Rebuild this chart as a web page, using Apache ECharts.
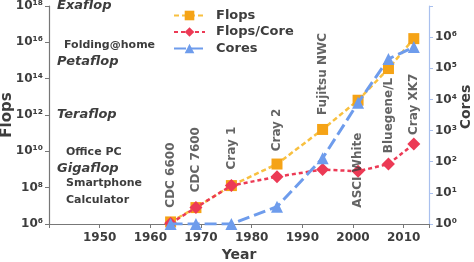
<!DOCTYPE html>
<html>
<head>
<meta charset="utf-8">
<script src="https://cdn.jsdelivr.net/npm/echarts@6/dist/echarts.min.js"></script>
<style>html,body{margin:0;padding:0;background:#fff}#c{width:474px;height:262px}</style>
</head>
<body>
<div id="c"></div>
<script>
// ---- data ----
var machines = ['CDC 6600', 'CDC 7600', 'Cray 1', 'Cray 2', 'Fujitsu NWC', 'ASCI White', 'Bluegene/L', 'Cray XK7'];
var years = [1964, 1969, 1976, 1985, 1994, 2001, 2007, 2012];
var flops = [1.3e6, 8e6, 1.3e8, 2e9, 1.6e11, 6.5e12, 3.6e14, 1.6e16];
var flopsPerCore = [1.1e6, 8e6, 1.3e8, 4e8, 1.0e9, 8e8, 2e9, 2.5e10];
var cores = [1, 1, 1, 3.6, 130, 7800, 200000, 480000];
var xTicks = [1950, 1960, 1970, 1980, 1990, 2000, 2010];
var leftNotes = ['Exaflop', 'Folding@home', 'Petaflop', 'Teraflop', 'Office PC', 'Gigaflop', 'Smartphone', 'Calculator'];

// ---- layout (label anchor levels on the Flops axis, exponent) ----
var labelLevel = [6.9, 7.75, 9.0, 10.0, 12.0, 6.9, 9.9, 10.9];
var notePos = [[57, 6, true], [64, 45, false], [57, 62, true], [57, 115, true], [66, 152, false], [57, 169, true], [66, 183, false], [66, 200, false]];

var FONT = '"DejaVu Sans", sans-serif';
var TXT = '#3d3d3d';
var sup = {'0':'\u2070','1':'\u00b9','2':'\u00b2','3':'\u00b3','4':'\u2074','5':'\u2075','6':'\u2076','7':'\u2077','8':'\u2078','9':'\u2079'};
function pow10(v) {
  var e = Math.round(Math.log10(v));
  return '10' + String(e).split('').map(function (c) { return sup[c]; }).join('');
}

var chart = echarts.init(document.getElementById('c'), null, {renderer: 'canvas'});

var labelData = years.map(function (y, i) { return {value: [y, Math.pow(10, labelLevel[i])], name: machines[i]}; });

var graphics = leftNotes.map(function (t, i) {
  var p = notePos[i];
  return {
    type: 'text', x: p[0], y: p[1], silent: true, z: 10,
    style: {
      text: t, x: 0, y: 0, align: 'left', verticalAlign: 'middle',
      fill: TXT, font: (p[2] ? 'italic bold 13px ' : 'bold 11px ') + FONT
    }
  };
});

chart.setOption({
  animation: false,
  textStyle: {fontFamily: FONT},
  grid: {left: 49, right: 45, top: 6, bottom: 38, containLabel: false, outerBoundsMode: 'none'},
  legend: {
    data: ['Flops', 'Flops/Core', 'Cores'],
    orient: 'vertical', left: 173, top: 9, padding: 0,
    itemWidth: 31, itemHeight: 12, itemGap: 3.5,
    textStyle: {color: TXT, fontWeight: 'bold', fontSize: 13, fontFamily: FONT, padding: [0, 0, 0, 6]}
  },
  xAxis: {
    type: 'value', min: 1940, max: 2015, interval: 10,
    name: 'Year', nameLocation: 'middle', nameGap: 24, nameMoveOverlap: false,
    nameTextStyle: {color: TXT, fontWeight: 'bold', fontSize: 14, fontFamily: FONT},
    axisLine: {show: true, lineStyle: {color: '#777', width: 1.2}},
    axisTick: {show: true, length: 4, lineStyle: {color: '#777'}},
    splitLine: {show: false},
    axisLabel: {
      color: TXT, fontWeight: 'bold', fontSize: 12, margin: 8, fontFamily: FONT, hideOverlap: false,
      formatter: function (v) { return xTicks.indexOf(v) >= 0 ? String(v) : ''; }
    }
  },
  yAxis: [{
    type: 'log', logBase: 10, min: 1e6, max: 1e18, position: 'left', interval: 2, splitNumber: 6,
    name: 'Flops', nameLocation: 'middle', nameGap: 34, nameMoveOverlap: false,
    nameTextStyle: {color: TXT, fontWeight: 'bold', fontSize: 15, fontFamily: FONT},
    axisLine: {show: true, lineStyle: {color: '#777', width: 1.2}},
    axisTick: {show: true, length: 4, lineStyle: {color: '#777'}},
    splitLine: {show: false},
    axisLabel: {color: TXT, fontWeight: 'bold', fontSize: 12, margin: 6, fontFamily: FONT, hideOverlap: false, formatter: pow10}
  }, {
    type: 'log', logBase: 10, min: 1, max: 1e7, position: 'right', interval: 1, splitNumber: 7,
    name: 'Cores', nameLocation: 'middle', nameGap: 30, nameMoveOverlap: false,
    nameTextStyle: {color: TXT, fontWeight: 'bold', fontSize: 14, fontFamily: FONT, padding: [0, 0, 0, 16]},
    axisLine: {show: true, lineStyle: {color: '#a9c0ee', width: 1.2}},
    axisTick: {show: true, length: 4, lineStyle: {color: '#a9c0ee'}},
    splitLine: {show: false},
    axisLabel: {
      color: TXT, fontWeight: 'bold', fontSize: 12, margin: 6, fontFamily: FONT, hideOverlap: false,
      formatter: function (v) { return v >= 1e7 ? '' : pow10(v); }
    }
  }],
  graphic: graphics,
  series: [{
    name: 'Flops', type: 'line', yAxisIndex: 0, z: 2,
    data: years.map(function (y, i) { return [y, flops[i]]; }),
    symbol: 'rect', symbolSize: 11,
    itemStyle: {color: '#f5a316'},
    lineStyle: {color: '#f8c040', width: 2.5, type: [5, 3]}
  }, {
    name: 'Flops/Core', type: 'line', yAxisIndex: 0, z: 3,
    data: years.map(function (y, i) { return [y, flopsPerCore[i]]; }),
    symbol: 'diamond', symbolSize: 13,
    itemStyle: {color: '#ec3a55'},
    lineStyle: {color: '#ec3a55', width: 2.5, type: [4, 3]}
  }, {
    name: 'Cores', type: 'line', yAxisIndex: 1, z: 4,
    data: years.map(function (y, i) { return [y, cores[i]]; }),
    symbol: 'triangle', symbolSize: 12,
    itemStyle: {color: '#6e9cec'},
    lineStyle: {color: '#6e9cec', width: 3, type: [12, 5]}
  }, {
    name: 'labels', type: 'scatter', yAxisIndex: 0, z: 5,
    data: labelData, symbolSize: 0, silent: true,
    label: {
      show: true, position: 'inside', rotate: 90, align: 'left', verticalAlign: 'middle',
      formatter: '{b}', color: TXT, fontWeight: 'bold', fontSize: 12, fontFamily: FONT
    }
  }]
});
</script>
</body>
</html>
